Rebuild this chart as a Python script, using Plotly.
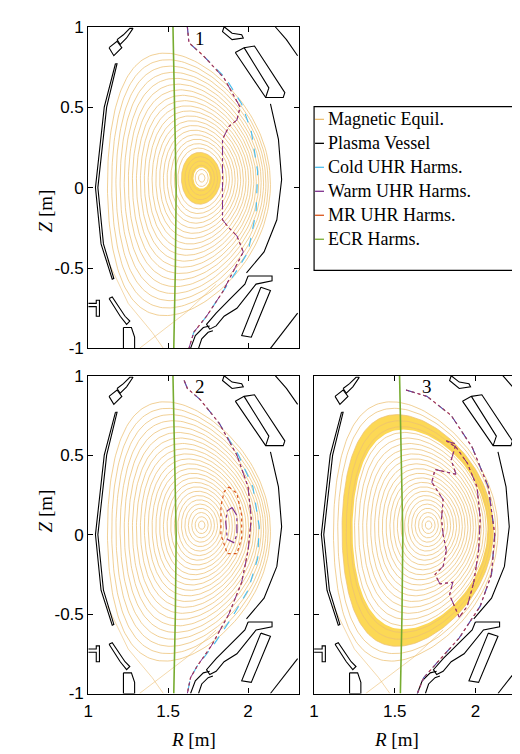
import numpy as np
import plotly.graph_objects as go

# ---------------- data ----------------
rho_levels = [0.04, 0.08, 0.12, 0.16, 0.20, 0.24, 0.28, 0.32, 0.36, 0.40, 0.44, 0.48,
              0.52, 0.56, 0.60, 0.64, 0.68, 0.72, 0.76, 0.80, 0.84, 0.88, 0.92, 0.96, 1.0]
eq_R0_edge, eq_R0_axis = 1.63, 1.71
eq_Z0_edge, eq_Z0_axis = 0.02, 0.06
eq_a = 0.51
eq_kappa_edge, eq_kappa_axis = 1.60, 1.30
eq_delta_edge = 0.30

band_rho = {1: (0.10, 0.24), 3: (0.82, 0.92)}

ecr_R = [1.53, 1.54, 1.55, 1.545, 1.535]
ecr_Z = [1.0, 0.5, 0.0, -0.5, -1.0]

leg1_R = [1.32, 1.45, 1.62, 1.80]; leg1_Z = [-1.0, -0.90, -0.77, -0.60]
leg2_R = [1.47, 1.40, 1.25, 1.12]; leg2_Z = [-1.0, -0.90, -0.72, -0.45]

# UHR harmonic curves per panel
warm1_R = [1.62, 1.63, 1.72, 1.85, 1.95, 1.93, 1.88, 1.84, 1.84, 1.84, 1.88, 1.93, 1.97, 1.92, 1.84, 1.74, 1.66, 1.63]
warm1_Z = [1.0, 0.9, 0.82, 0.68, 0.50, 0.42, 0.38, 0.30, 0.0, -0.2, -0.25, -0.30, -0.40, -0.50, -0.65, -0.80, -0.90, -1.0]
cold1_R = [1.62, 1.63, 1.72, 1.86, 1.96, 2.02, 2.06, 2.05, 2.00, 1.92, 1.84, 1.74, 1.66, 1.63]
cold1_Z = [1.0, 0.9, 0.82, 0.68, 0.52, 0.35, 0.10, -0.15, -0.40, -0.53, -0.65, -0.80, -0.90, -1.0]

out2_R = [1.60, 1.62, 1.70, 1.82, 1.93, 2.00, 2.02, 2.00, 1.96, 1.88, 1.77, 1.68, 1.64, 1.62]
out2_Z = [0.97, 0.92, 0.85, 0.70, 0.50, 0.30, 0.10, -0.10, -0.30, -0.50, -0.70, -0.83, -0.90, -1.0]
cold2_R = [1.60, 1.62, 1.70, 1.82, 1.94, 2.03, 2.07, 2.06, 2.00, 1.90, 1.78, 1.68, 1.64, 1.62]
cold2_Z = [0.97, 0.92, 0.85, 0.70, 0.50, 0.30, 0.05, -0.15, -0.35, -0.52, -0.70, -0.83, -0.90, -1.0]
mr2_ring_R = [1.88, 1.93, 1.96, 1.96, 1.93, 1.87, 1.83, 1.83, 1.85, 1.88]
mr2_ring_Z = [0.30, 0.26, 0.12, -0.02, -0.12, -0.12, 0.00, 0.18, 0.27, 0.30]
warm2_ring_R = [1.90, 1.93, 1.93, 1.91, 1.87, 1.86, 1.87, 1.90]
warm2_ring_Z = [0.17, 0.12, 0.00, -0.05, -0.03, 0.08, 0.15, 0.17]

out3_R = [1.57, 1.70, 1.85, 1.98, 2.08, 2.12, 2.10, 2.03, 1.90, 1.77, 1.68, 1.64]
out3_Z = [0.91, 0.87, 0.75, 0.55, 0.30, 0.00, -0.25, -0.45, -0.65, -0.80, -0.90, -1.0]
ring3_R = [1.82, 1.88, 1.85, 1.88, 1.75, 1.73, 1.80, 1.79, 1.80, 1.82, 1.80, 1.75, 1.78, 1.86,
           1.84, 1.88, 1.90, 1.95, 1.99, 2.02, 2.03, 2.01, 1.95, 1.88, 1.82]
ring3_Z = [0.59, 0.57, 0.47, 0.38, 0.41, 0.33, 0.22, 0.10, 0.00, -0.10, -0.20, -0.25, -0.31, -0.30,
           -0.38, -0.47, -0.52, -0.45, -0.30, -0.10, 0.10, 0.30, 0.45, 0.55, 0.59]

vessel = [
    ([1.17, 1.10, 1.045, 1.08, 1.15, 1.16, 1.095, 1.06, 1.115, 1.18, 1.17],
     [0.77, 0.50, 0.0, -0.35, -0.57, -0.565, -0.35, 0.0, 0.50, 0.77, 0.77]),
    ([1.13, 1.18, 1.21, 1.16, 1.13], [0.87, 0.91, 0.87, 0.82, 0.87]),
    ([1.18, 1.22, 1.26, 1.28, 1.24, 1.20, 1.18], [0.92, 0.95, 0.99, 0.99, 0.93, 0.89, 0.92]),
    ([1.85, 1.90, 1.96, 1.97, 1.90, 1.84, 1.85], [1.0, 0.96, 0.95, 0.93, 0.92, 0.97, 1.0]),
    ([1.92, 1.975, 2.04, 2.23, 2.22, 2.11, 1.92], [0.84, 0.87, 0.88, 0.59, 0.56, 0.56, 0.84]),
    ([1.975, 2.13, 2.11], [0.87, 0.62, 0.56]),
    ([2.14, 2.19, 2.21, 2.18, 2.10, 1.99], [0.52, 0.30, 0.05, -0.20, -0.40, -0.53]),
    ([2.17, 2.24, 2.31], [1.0, 0.92, 0.82]),
    ([2.31, 2.22, 2.14], [-0.78, -0.90, -1.0]),
    ([2.0, 2.15, 2.15, 2.05, 1.93, 1.85, 1.80, 1.76, 1.74, 1.80, 1.88, 1.98, 2.0],
     [-0.55, -0.55, -0.58, -0.60, -0.75, -0.80, -0.86, -0.88, -0.85, -0.78, -0.70, -0.60, -0.55]),
    ([2.08, 2.14, 2.02, 1.96, 2.08], [-0.62, -0.64, -0.93, -0.92, -0.62]),
    ([1.64, 1.67, 1.72, 1.76], [-1.0, -0.92, -0.87, -0.86]),
    ([1.69, 1.71, 1.75, 1.78], [-1.0, -0.94, -0.90, -0.89]),
    ([1.0, 1.05, 1.05, 1.07, 1.07, 1.05, 1.05, 1.0], [-0.72, -0.72, -0.70, -0.70, -0.80, -0.80, -0.74, -0.74]),
    ([1.13, 1.15, 1.23, 1.26, 1.24, 1.20, 1.13], [-0.69, -0.68, -0.80, -0.83, -0.85, -0.80, -0.69]),
    ([1.22, 1.27, 1.29, 1.29, 1.22, 1.22], [-0.87, -0.87, -0.93, -1.0, -1.0, -0.87]),
]

legend_labels = ["Magnetic Equil.", "Plasma Vessel", "Cold UHR Harms.",
                 "Warm UHR Harms.", "MR UHR Harms.", "ECR Harms."]

# ---------------- styles ----------------
C_EQ = "rgb(236,192,115)"
C_BAND = "rgb(252,216,85)"
C_ECR = "rgb(119,172,48)"
C_COLD = "rgb(77,190,238)"
C_WARM = "rgb(126,47,142)"
C_MR = "rgb(217,83,25)"

def surface(rho, n=181):
    t = np.linspace(0, 2 * np.pi, n)
    s = 1 - rho ** 2
    R0 = eq_R0_edge + (eq_R0_axis - eq_R0_edge) * s
    Z0 = eq_Z0_edge + (eq_Z0_axis - eq_Z0_edge) * s
    k = eq_kappa_axis + (eq_kappa_edge - eq_kappa_axis) * rho ** 2
    d = eq_delta_edge * rho
    a = eq_a * rho
    return R0 + a * np.cos(t + d * np.sin(t)), Z0 + k * a * np.sin(t)

fig = go.Figure()
panels = {1: ("x", "y"), 2: ("x2", "y2"), 3: ("x3", "y3")}

def line(p, R, Z, color, width=1.0, dash="solid"):
    xa, ya = panels[p]
    fig.add_trace(go.Scatter(x=R, y=Z, mode="lines", xaxis=xa, yaxis=ya,
                             line=dict(color=color, width=width, dash=dash),
                             showlegend=False, hoverinfo="skip"))

for p in (1, 2, 3):
    xa, ya = panels[p]
    if p in band_rho:
        r1, r2 = band_rho[p]
        Ro, Zo = surface(r2)
        Ri, Zi = surface(r1)
        fig.add_trace(go.Scatter(x=np.concatenate([Ro, Ri[::-1]]), y=np.concatenate([Zo, Zi[::-1]]),
                                 mode="lines", fill="toself", fillcolor=C_BAND,
                                 line=dict(width=0), xaxis=xa, yaxis=ya,
                                 showlegend=False, hoverinfo="skip"))
    for r in rho_levels:
        R, Z = surface(r)
        line(p, R, Z, C_EQ, 0.75)
    line(p, leg1_R, leg1_Z, C_EQ, 0.6)
    line(p, leg2_R, leg2_Z, C_EQ, 0.6)
    for vR, vZ in vessel:
        line(p, vR, vZ, "black", 1.1)

line(1, cold1_R, cold1_Z, C_COLD, 1.2, "dash")
line(1, warm1_R, warm1_Z, C_MR, 1.2, "dot")
line(1, warm1_R, warm1_Z, C_WARM, 1.0, "dashdot")
line(2, cold2_R, cold2_Z, C_COLD, 1.2, "dash")
line(2, out2_R, out2_Z, C_MR, 1.2, "dot")
line(2, out2_R, out2_Z, C_WARM, 1.0, "dashdot")
line(2, mr2_ring_R, mr2_ring_Z, C_MR, 1.2, "dot")
line(2, warm2_ring_R, warm2_ring_Z, C_WARM, 1.2, "dashdot")
line(3, out3_R, out3_Z, C_COLD, 1.2, "dash")
line(3, out3_R, out3_Z, C_MR, 1.2, "dot")
line(3, out3_R, out3_Z, C_WARM, 1.0, "dashdot")
line(3, ring3_R, ring3_Z, C_MR, 1.2, "dot")
line(3, ring3_R, ring3_Z, C_WARM, 1.0, "dashdot")
for p in (1, 2, 3):
    line(p, ecr_R, ecr_Z, C_ECR, 1.6)

W, H = 520, 754
def px(x): return x / W
def py(y): return 1 - y / H

tickfont = dict(family="Liberation Sans, Arial", size=17, color="black")
ax_common = dict(range=[1, 2.32], tickvals=[1, 1.5, 2], ticktext=["1", "1.5", "2"],
                 showline=True, mirror="ticks", linecolor="black", linewidth=1.2,
                 ticks="inside", ticklen=5, tickcolor="black", showgrid=False,
                 zeroline=False, tickfont=tickfont, ticklabelstandoff=2)
ay_common = dict(range=[-1, 1], tickvals=[-1, -0.5, 0, 0.5, 1], ticktext=["-1", "-0.5", "0", "0.5", "1"],
                 showline=True, mirror="ticks", linecolor="black", linewidth=1.2,
                 ticks="inside", ticklen=5, tickcolor="black", showgrid=False,
                 zeroline=False, tickfont=tickfont)

fig.update_layout(
    width=W, height=H, margin=dict(l=0, r=0, t=0, b=0),
    paper_bgcolor="white", plot_bgcolor="white", showlegend=False,
    xaxis=dict(ax_common, domain=[px(76), px(289)], anchor="y", showticklabels=False),
    yaxis=dict(ay_common, domain=[py(340), py(10)], anchor="x"),
    xaxis2=dict(ax_common, domain=[px(76), px(289)], anchor="y2"),
    yaxis2=dict(ay_common, domain=[py(694), py(368)], anchor="x2"),
    xaxis3=dict(ax_common, domain=[px(304), px(519)], anchor="y3"),
    yaxis3=dict(ay_common, domain=[py(694), py(368)], anchor="x3", showticklabels=False),
)

serif = "Liberation Serif, Times New Roman, serif"
ann = []
for p, (xa, ya) in panels.items():
    ann.append(dict(x=1.70, y=0.93, xref=xa, yref=ya, text=str(p), showarrow=False,
                    font=dict(family=serif, size=19, color="black")))
for yy in (175, 531):
    ann.append(dict(x=px(20), y=py(yy), xref="paper", yref="paper", text="<i>Z</i> [m]",
                    textangle=-90, showarrow=False, font=dict(family=serif, size=19, color="black")))
for xx in (182, 412):
    ann.append(dict(x=px(xx), y=py(754), xref="paper", yref="paper", text="<i>R</i> [m]",
                    yanchor="bottom", yshift=0, showarrow=False,
                    font=dict(family=serif, size=19, color="black")))

# manual legend
shapes = [dict(type="rect", xref="paper", yref="paper", x0=px(304), x1=px(519), y0=py(260), y1=py(92),
               line=dict(color="black", width=1.2), fillcolor="white", layer="above")]
leg_colors = [C_EQ, "black", C_COLD, C_WARM, C_MR, C_ECR]
for i, (lab, c) in enumerate(zip(legend_labels, leg_colors)):
    yy = 105 + i * 24.6
    shapes.append(dict(type="line", xref="paper", yref="paper", x0=px(305), x1=px(314),
                       y0=py(yy), y1=py(yy), line=dict(color=c, width=1.3), layer="above"))
    ann.append(dict(x=px(316), y=py(yy), xref="paper", yref="paper", text=lab, showarrow=False,
                    xanchor="left", yanchor="middle", font=dict(family=serif, size=18, color="black")))

fig.update_layout(annotations=ann, shapes=shapes)
fig.write_html("out.html")
